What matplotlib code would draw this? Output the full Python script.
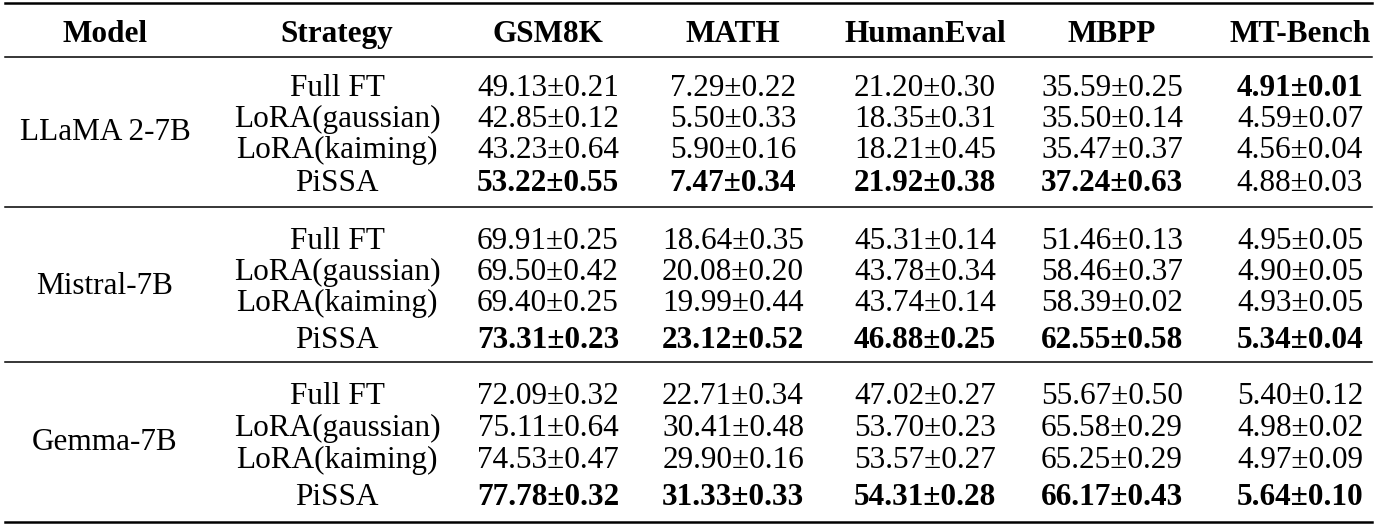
import matplotlib
matplotlib.use("Agg")
import matplotlib.pyplot as plt

columns = ["Model", "Strategy", "GSM8K", "MATH", "HumanEval", "MBPP", "MT-Bench"]
models = ["LLaMA 2-7B", "Mistral-7B", "Gemma-7B"]
strategies = ["Full FT", "LoRA(gaussian)", "LoRA(kaiming)", "PiSSA"]
values = [
    [["49.13±0.21", "7.29±0.22", "21.20±0.30", "35.59±0.25", "4.91±0.01"],
     ["42.85±0.12", "5.50±0.33", "18.35±0.31", "35.50±0.14", "4.59±0.07"],
     ["43.23±0.64", "5.90±0.16", "18.21±0.45", "35.47±0.37", "4.56±0.04"],
     ["53.22±0.55", "7.47±0.34", "21.92±0.38", "37.24±0.63", "4.88±0.03"]],
    [["69.91±0.25", "18.64±0.35", "45.31±0.14", "51.46±0.13", "4.95±0.05"],
     ["69.50±0.42", "20.08±0.20", "43.78±0.34", "58.46±0.37", "4.90±0.05"],
     ["69.40±0.25", "19.99±0.44", "43.74±0.14", "58.39±0.02", "4.93±0.05"],
     ["73.31±0.23", "23.12±0.52", "46.88±0.25", "62.55±0.58", "5.34±0.04"]],
    [["72.09±0.32", "22.71±0.34", "47.02±0.27", "55.67±0.50", "5.40±0.12"],
     ["75.11±0.64", "30.41±0.48", "53.70±0.23", "65.58±0.29", "4.98±0.02"],
     ["74.53±0.47", "29.90±0.16", "53.57±0.27", "65.25±0.29", "4.97±0.09"],
     ["77.78±0.32", "31.33±0.33", "54.31±0.28", "66.17±0.43", "5.64±0.10"]],
]
bold = {(0, 0, 4), (0, 3, 0), (0, 3, 1), (0, 3, 2), (0, 3, 3),
        (1, 3, 0), (1, 3, 1), (1, 3, 2), (1, 3, 3), (1, 3, 4),
        (2, 3, 0), (2, 3, 1), (2, 3, 2), (2, 3, 3), (2, 3, 4)}

W, H = 1377, 526
fig = plt.figure(figsize=(W / 100, H / 100), dpi=100)
ax = fig.add_axes([0, 0, 1, 1])
ax.set_xlim(0, W)
ax.set_ylim(H, 0)
ax.axis("off")
plt.rcParams["font.family"] = ["Liberation Serif", "DejaVu Serif"]
fs = 22.5
va = "center_baseline"

xs = [105, 337, 548, 733, 925, 1112, 1300]
for x, c in zip(xs, columns):
    ax.text(x, 31, c, ha="center", va=va, fontsize=fs, fontweight="bold")

ax.plot([5, 1372], [3, 3], color="black", lw=1.8)
ax.plot([5, 1372], [57, 57], color="black", lw=1.1)
group_tops = [57, 207, 362]
row_ys = [[85, 116, 147, 180], [238, 269, 300, 337], [393, 425, 457, 494]]
for g, m in enumerate(models):
    ys = row_ys[g]
    ax.text(xs[0], (ys[1] + ys[2]) / 2 - 2, m, ha="center", va=va, fontsize=fs)
    for r, s in enumerate(strategies):
        ax.text(xs[1], ys[r], s, ha="center", va=va, fontsize=fs)
        for k, v in enumerate(values[g][r]):
            ax.text(xs[k + 2], ys[r], v, ha="center", va=va, fontsize=fs,
                    fontweight="bold" if (g, r, k) in bold else "normal")
    if g > 0:
        ax.plot([5, 1372], [group_tops[g], group_tops[g]], color="black", lw=1.1)
ax.plot([5, 1372], [522, 522], color="black", lw=1.8)

fig.savefig("out.png", dpi=100)
